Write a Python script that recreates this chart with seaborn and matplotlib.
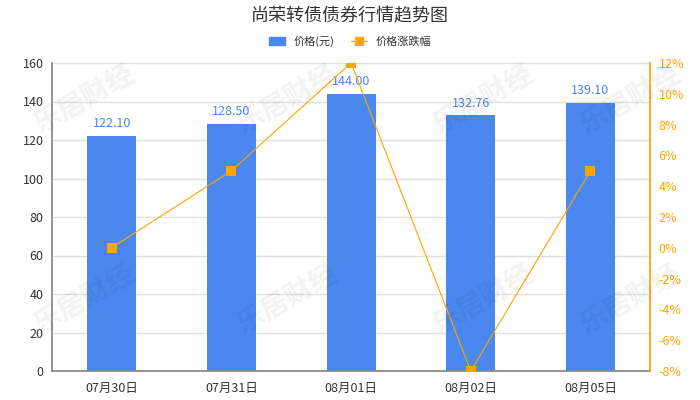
import pandas as pd
import matplotlib.pyplot as plt
import seaborn as sns
from matplotlib.ticker import FuncFormatter
from matplotlib.lines import Line2D
from matplotlib.patches import Patch

# ====== 数据 ======
dates = ["07月30日", "07月31日", "08月01日", "08月02日", "08月05日"]
prices = [122.10, 128.50, 144.00, 132.76, 139.10]
changes = [0.0, 5.0, 12.0, -8.0, 5.0]  # 价格涨跌幅 (%)

BLUE = "#4a87ee"
ORANGE = "#ffa500"
GRAY = "#333333"

sns.set_theme(style="white")
plt.rcParams["font.family"] = ["Noto Sans CJK SC", "DejaVu Sans"]

df = pd.DataFrame({"date": dates, "price": prices, "change": changes})

fig = plt.figure(figsize=(7, 4), dpi=100)
ax = fig.add_axes([0.074, 0.0725, 0.855, 0.77])

# ====== 柱状图: 价格 ======
sns.barplot(data=df, x="date", y="price", color=BLUE, saturation=1,
            width=0.41, linewidth=0, ax=ax, zorder=2)
ax.set_ylim(0, 160)
ax.set_yticks(range(0, 161, 20))
ax.set_xlim(-0.5, len(dates) - 0.5)
ax.grid(axis="y", color="#e0e0e0", linewidth=1, zorder=0)
ax.set_axisbelow(True)
ax.set_xlabel("")
ax.set_ylabel("")
for s in ["top", "right"]:
    ax.spines[s].set_visible(False)
ax.spines["left"].set_color("#888888")
ax.spines["bottom"].set_color("#888888")
ax.tick_params(axis="both", colors=GRAY, labelsize=9, length=0, pad=6)
ax.tick_params(axis="x", pad=8)

for i, v in enumerate(prices):
    ax.text(i, v + 3, f"{v:.2f}", ha="center", va="bottom", color=BLUE, fontsize=9)

# ====== 折线图: 涨跌幅 ======
ax2 = ax.twinx()
sns.lineplot(x=list(range(len(dates))), y=changes, color=ORANGE, linewidth=0.8,
             marker="s", markersize=7, markeredgewidth=0, ax=ax2, zorder=3)
ax2.set_ylim(-8, 12)
ax2.set_yticks(range(-8, 13, 2))
ax2.yaxis.set_major_formatter(FuncFormatter(lambda v, p: f"{v:.0f}%"))
ax2.tick_params(axis="y", colors=ORANGE, labelsize=9, length=0, pad=6)
for s in ["top", "left", "bottom"]:
    ax2.spines[s].set_visible(False)
ax2.spines["right"].set_color(ORANGE)
ax2.grid(False)

# ====== 标题和图例 ======
fig.text(0.5, 0.96, "尚荣转债债券行情趋势图", ha="center", va="center",
         fontsize=13, color=GRAY)
handles = [
    Patch(facecolor=BLUE, edgecolor=BLUE),
    Line2D([0], [0], color=ORANGE, marker="s", markersize=6, linewidth=1),
]
fig.legend(handles, ["价格(元)", "价格涨跌幅"], loc="center",
           bbox_to_anchor=(0.5, 0.897), ncol=2, frameon=False, fontsize=8,
           handlelength=1.4, handleheight=0.8, columnspacing=1.5,
           labelcolor=GRAY)

# ====== 水印 ======
for wx in [0.12, 0.41, 0.69, 0.9]:
    for wy in [0.75, 0.25]:
        fig.text(wx, wy, "乐居财经", ha="center", va="center", fontsize=20,
                 fontweight="bold", color="#000000", alpha=0.05, rotation=30)

fig.savefig("out.png", dpi=100)
plt.close(fig)
